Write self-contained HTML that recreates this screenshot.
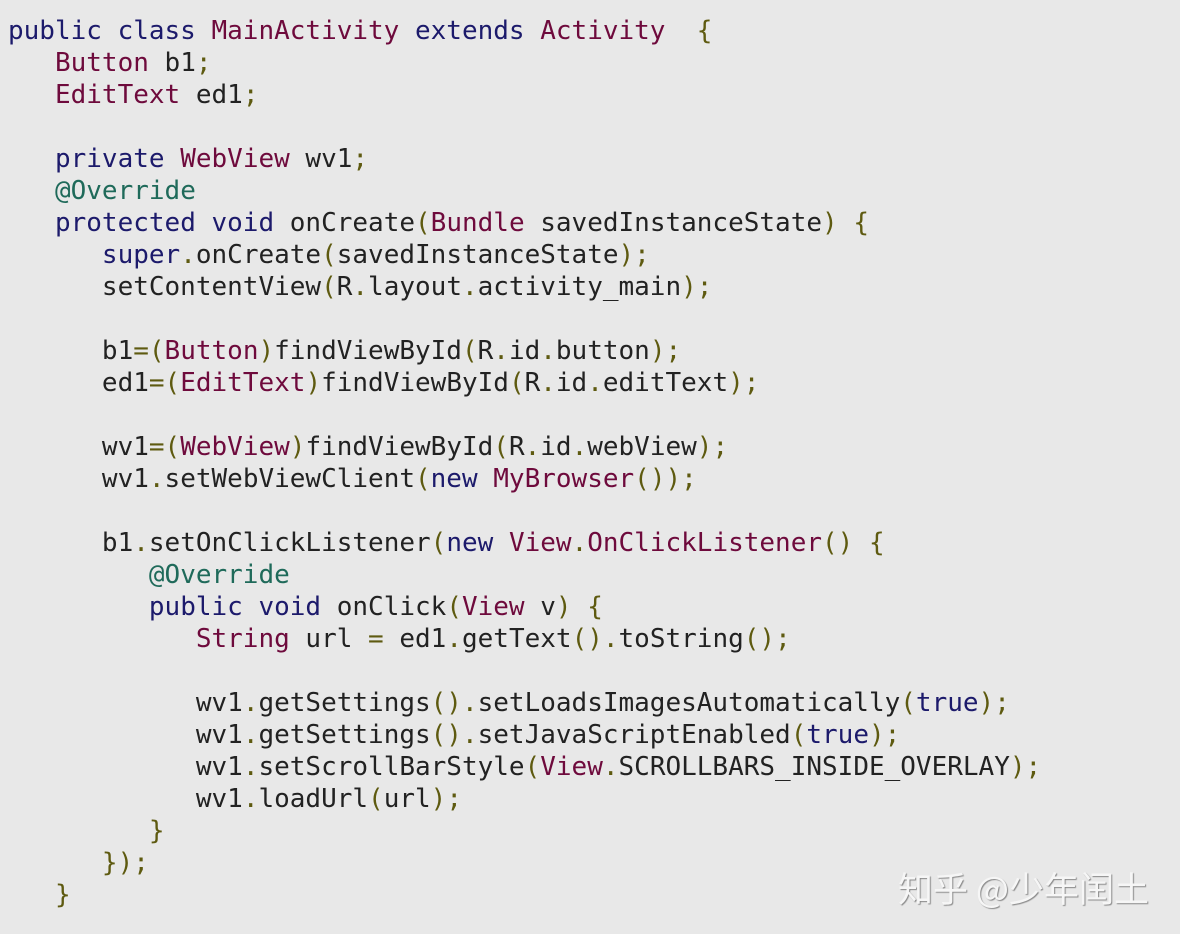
<!DOCTYPE html>
<html><head><meta charset="utf-8"><style>
html,body{margin:0;padding:0;width:1180px;height:934px;background:#e8e8e8;overflow:hidden}
pre{margin:0;position:absolute;left:8px;top:15px;font-family:"DejaVu Sans Mono","Liberation Mono",monospace;font-size:26px;line-height:32px;color:#222}
.k{color:#1c1a6b}.t{color:#6e0a3c}.p{color:#5e5a10}.a{color:#1f6a5a}
.wm{position:absolute;left:898px;top:862px;font-family:"Noto Sans CJK SC",sans-serif;font-size:35px;color:#f6f6f6;text-shadow:1px 1px 1px #888;letter-spacing:0px}
</style></head><body>
<pre><span class="k">public class</span> <span class="t">MainActivity</span> <span class="k">extends</span> <span class="t">Activity</span>  <span class="p">{</span>
   <span class="t">Button</span> b1<span class="p">;</span>
   <span class="t">EditText</span> ed1<span class="p">;</span>

   <span class="k">private</span> <span class="t">WebView</span> wv1<span class="p">;</span>
   <span class="a">@Override</span>
   <span class="k">protected void</span> onCreate<span class="p">(</span><span class="t">Bundle</span> savedInstanceState<span class="p">)</span> <span class="p">{</span>
      <span class="k">super</span><span class="p">.</span>onCreate<span class="p">(</span>savedInstanceState<span class="p">);</span>
      setContentView<span class="p">(</span>R<span class="p">.</span>layout<span class="p">.</span>activity_main<span class="p">);</span>

      b1<span class="p">=(</span><span class="t">Button</span><span class="p">)</span>findViewById<span class="p">(</span>R<span class="p">.</span>id<span class="p">.</span>button<span class="p">);</span>
      ed1<span class="p">=(</span><span class="t">EditText</span><span class="p">)</span>findViewById<span class="p">(</span>R<span class="p">.</span>id<span class="p">.</span>editText<span class="p">);</span>

      wv1<span class="p">=(</span><span class="t">WebView</span><span class="p">)</span>findViewById<span class="p">(</span>R<span class="p">.</span>id<span class="p">.</span>webView<span class="p">);</span>
      wv1<span class="p">.</span>setWebViewClient<span class="p">(</span><span class="k">new</span> <span class="t">MyBrowser</span><span class="p">());</span>

      b1<span class="p">.</span>setOnClickListener<span class="p">(</span><span class="k">new</span> <span class="t">View</span><span class="p">.</span><span class="t">OnClickListener</span><span class="p">()</span> <span class="p">{</span>
         <span class="a">@Override</span>
         <span class="k">public void</span> onClick<span class="p">(</span><span class="t">View</span> v<span class="p">)</span> <span class="p">{</span>
            <span class="t">String</span> url <span class="p">=</span> ed1<span class="p">.</span>getText<span class="p">().</span>toString<span class="p">();</span>

            wv1<span class="p">.</span>getSettings<span class="p">().</span>setLoadsImagesAutomatically<span class="p">(</span><span class="k">true</span><span class="p">);</span>
            wv1<span class="p">.</span>getSettings<span class="p">().</span>setJavaScriptEnabled<span class="p">(</span><span class="k">true</span><span class="p">);</span>
            wv1<span class="p">.</span>setScrollBarStyle<span class="p">(</span><span class="t">View</span><span class="p">.</span>SCROLLBARS_INSIDE_OVERLAY<span class="p">);</span>
            wv1<span class="p">.</span>loadUrl<span class="p">(</span>url<span class="p">);</span>
         <span class="p">}</span>
      <span class="p">});</span>
   <span class="p">}</span></pre>
<div class="wm">知乎 @少年闰土</div>
</body></html>
